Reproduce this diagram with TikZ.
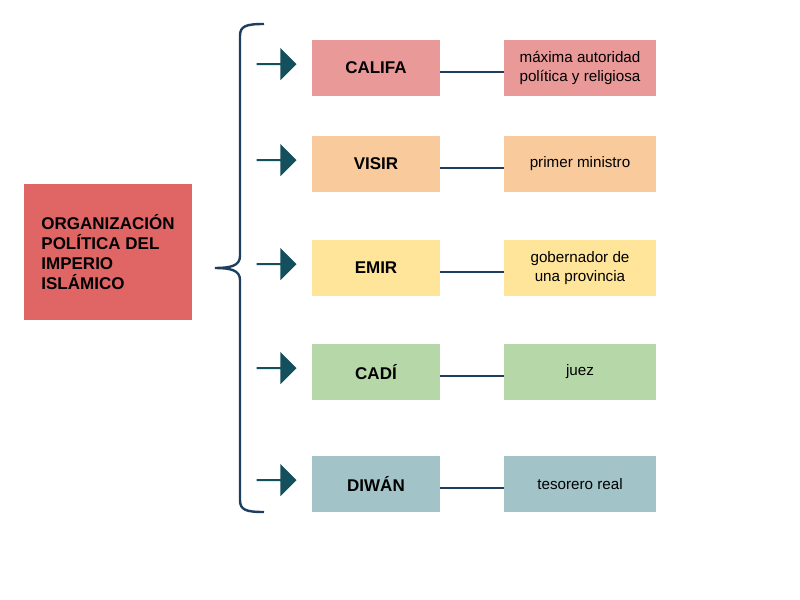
\documentclass[tikz,border=0pt]{standalone}
\usepackage{fontspec}
\setmainfont{Liberation Sans}
\usetikzlibrary{shapes.arrows}
\definecolor{mainRed}{HTML}{E06666}
\definecolor{arrowTeal}{HTML}{134F5C}
\definecolor{braceBlue}{HTML}{1C3F60}
\definecolor{califaColor}{HTML}{EA9999}
\definecolor{visirColor}{HTML}{F9CB9C}
\definecolor{emirColor}{HTML}{FFE599}
\definecolor{cadiColor}{HTML}{B6D7A8}
\definecolor{diwanColor}{HTML}{A2C4C9}
\tikzset{
    rankBox/.style={minimum width=64pt, minimum height=28pt, inner sep=0pt, font=\bfseries\fontsize{8.5}{10}\selectfont},
    infoBox/.style={minimum width=76pt, minimum height=28pt, inner sep=0pt, align=center, font=\fontsize{7.6}{9.5}\selectfont},
    blockArrow/.style={single arrow, fill=arrowTeal, minimum height=20pt, minimum width=16pt, single arrow head extend=3pt, inner sep=0pt},
    linkLine/.style={draw=braceBlue, line width=0.7pt}
}
\begin{document}
\begin{tikzpicture}[x=0.5pt,y=-0.5pt]
    \useasboundingbox (0,0) rectangle (800,600);

    % main box
    \node [fill=mainRed, minimum width=84pt, minimum height=68pt, align=left, font=\bfseries\fontsize{8.5}{10}\selectfont] (Organizacion) at (108,252) {ORGANIZACIÓN\\POLÍTICA DEL\\IMPERIO\\ISLÁMICO};

    % brace
    \draw [draw=braceBlue, line width=1.2pt] (264,24) .. controls (246,24) and (240,26) .. (240,36) -- (240,256) .. controls (240,266) and (230,268) .. (215,268) .. controls (230,268) and (240,270) .. (240,280) -- (240,500) .. controls (240,510) and (246,512) .. (264,512);

    \foreach \name/\rank/\info/\col/\y in {
        Califa/CALIFA/{máxima autoridad\\política y religiosa}/califaColor/68,
        Visir/VISIR/{primer ministro}/visirColor/164,
        Emir/EMIR/{gobernador de\\una provincia}/emirColor/268,
        Cadi/CADÍ/{juez}/cadiColor/372,
        Diwan/DIWÁN/{tesorero real}/diwanColor/484}{
        \node [blockArrow] (Arrow\name) at (276,\y-4) {};
        \node [rankBox, fill=\col] (Rank\name) at (376,\y) {\rank};
        \node [infoBox, fill=\col] (Info\name) at (580,\y) {\info};
        \draw [linkLine] ([yshift=-2pt]Rank\name.east) -- ([yshift=-2pt]Info\name.west);
    }
\end{tikzpicture}
\end{document}
